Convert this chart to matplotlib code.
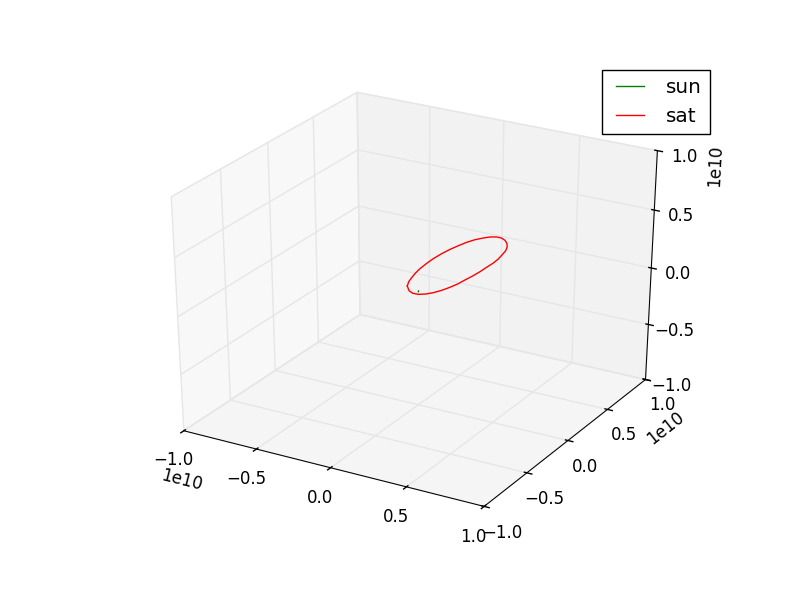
import matplotlib
matplotlib.use("Agg")
import matplotlib.pyplot as plt
from mpl_toolkits.mplot3d import Axes3D

plt.style.use("classic")

SCALE = 1e10

# orbit positions, in units of 1e10
SAT_X = [-0.132, -0.133, -0.126, -0.115, -0.101, -0.077, -0.053, -0.02, 0.014, 0.049, 0.084, 0.121,
         0.16, 0.192, 0.225, 0.252, 0.274, 0.289, 0.297, 0.297, 0.288, 0.275, 0.258, 0.232,
         0.207, 0.178, 0.147, 0.118, 0.085, 0.049, 0.012, -0.025, -0.061, -0.091, -0.115, -0.132]
SAT_Y = [0.1, 0.118, 0.14, 0.167, 0.194, 0.23, 0.265, 0.306, 0.344, 0.38, 0.415, 0.448,
         0.478, 0.501, 0.52, 0.531, 0.533, 0.529, 0.519, 0.502, 0.481, 0.453, 0.425, 0.392,
         0.358, 0.323, 0.287, 0.253, 0.22, 0.186, 0.154, 0.127, 0.105, 0.092, 0.09, 0.1]
SAT_Z = [-0.035, -0.007, 0.019, 0.05, 0.078, 0.113, 0.143, 0.176, 0.204, 0.228, 0.25, 0.267,
         0.278, 0.285, 0.285, 0.278, 0.263, 0.243, 0.222, 0.196, 0.172, 0.141, 0.115, 0.087,
         0.058, 0.03, 0.004, -0.022, -0.044, -0.064, -0.079, -0.088, -0.09, -0.083, -0.066, -0.035]

SUN_X = [-0.066, -0.065]
SUN_Y = [0.114, 0.115]
SUN_Z = [-0.073, -0.067]


def scaled(values):
    return [v * SCALE for v in values]


fig = plt.figure(figsize=(8, 5.97), dpi=100, facecolor="white")
ax = fig.add_subplot(111, projection="3d")
# the old mplot3d look: cube stretched to fill the axes rectangle
ax.apply_aspect = lambda position=None: None
ax.set_box_aspect((1, 1, 1), zoom=0.94)

ax.plot(scaled(SUN_X), scaled(SUN_Y), scaled(SUN_Z), color="g", label="sun")
ax.plot(scaled(SAT_X), scaled(SAT_Y), scaled(SAT_Z), color="r", label="sat")

ax.set_xlim(-SCALE, SCALE)
ax.set_ylim(-SCALE, SCALE)
ax.set_zlim(-SCALE, SCALE)
ax.legend()

fig.savefig("out.png", dpi=100, facecolor="white")
